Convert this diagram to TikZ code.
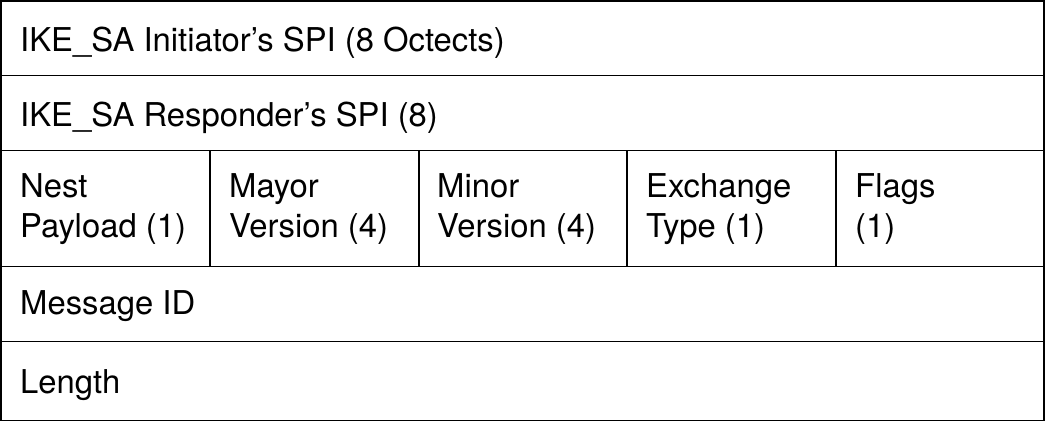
\documentclass[tikz,border=0pt]{standalone}
\usepackage{fontspec}
\setmainfont{TeX Gyre Heros}
\begin{document}
\begin{tikzpicture}[x=1pt,y=-1pt,
	cell/.style={draw,line width=1.7pt,rectangle,inner sep=0pt,outer sep=0pt,anchor=north west},
	txt/.style={anchor=base west,inner sep=0pt,align=left,font=\fontsize{32.8}{40}\selectfont}]
	\useasboundingbox (0,0) rectangle (1046,422);
	% header rows
	\node[cell,minimum width=1043pt,minimum height=74.5pt] (initspi) at (1,1) {};
	\node[cell,minimum width=1043pt,minimum height=75pt] (respspi) at (1,75.5) {};
	% field row
	\node[cell,minimum width=209pt,minimum height=116pt] (nextpl) at (1,150.5) {};
	\node[cell,minimum width=209pt,minimum height=116pt] (majver) at (210,150.5) {};
	\node[cell,minimum width=208pt,minimum height=116pt] (minver) at (419,150.5) {};
	\node[cell,minimum width=209pt,minimum height=116pt] (exch) at (627,150.5) {};
	\node[cell,minimum width=208pt,minimum height=116pt] (flags) at (836,150.5) {};
	% lower rows
	\node[cell,minimum width=1043pt,minimum height=75pt] (msgid) at (1,266.5) {};
	\node[cell,minimum width=1043pt,minimum height=79pt] (len) at (1,341.5) {};
	% texts
	\node[txt] (initspitxt) at (20,51.7) {IKE\_SA Initiator’s SPI (8 Octects)};
	\node[txt] (respspitxt) at (20,126.7) {IKE\_SA Responder’s SPI (8)};
	\node[txt] (nextpltxt) at (20,237.7) {Nest\\Payload (1)};
	\node[txt] (majvertxt) at (229,237.7) {Mayor\\Version (4)};
	\node[txt] (minvertxt) at (437,237.7) {Minor\\Version (4)};
	\node[txt] (exchtxt) at (646,237.7) {Exchange\\Type (1)};
	\node[txt] (flagstxt) at (855,237.7) {Flags\\(1)};
	\node[txt] (msgidtxt) at (20,314) {Message ID};
	\node[txt] (lentxt) at (20,393) {Length};
\end{tikzpicture}
\end{document}
